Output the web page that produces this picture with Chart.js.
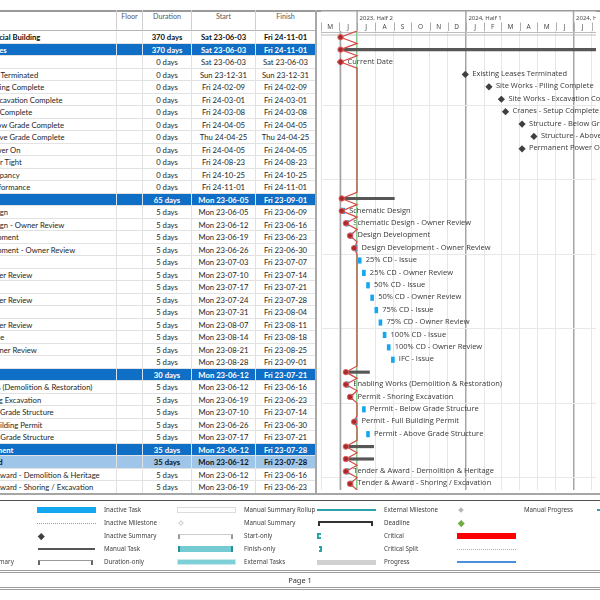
<!DOCTYPE html>
<html>
<head>
<meta charset="utf-8">
<script src="https://cdn.jsdelivr.net/npm/chart.js@4.4.1/dist/chart.umd.min.js"></script>
<style>
body { margin:0; width:600px; height:600px; overflow:hidden; background:#fff; position:relative; font-family: Lato, sans-serif; }
#sheet { position:absolute; left:0; top:10px; width:316px; height:484px; overflow:hidden; }
.row { position:absolute; left:0; width:316px; height:12.5px; }
.c { position:absolute; top:0; height:12.5px; box-sizing:border-box; border-right:1px solid #e2e2e2; border-bottom:1px solid #e2e2e2;
     white-space:nowrap; overflow:hidden; font-size:7.7px; line-height:12px; color:#262626; text-align:center; }
.hd { position:absolute; top:0; height:21px; box-sizing:border-box; border-right:1px solid #cfcfcf; border-bottom:1px solid #b5b5b5;
      font-size:7.2px; line-height:14px; color:#5a5a5a; text-align:center; }
.line { position:absolute; left:0; width:600px; }
.lg { position:absolute; font-family:"Noto Sans", sans-serif; font-size:6.2px; color:#404040; white-space:nowrap; line-height:8px; }
</style>
</head>
<body>
<div class="line" style="top:9.5px;height:2px;background:#9a9a9a"></div>
<div id="sheet"></div>
<div style="position:absolute;left:315px;top:10px;width:2px;height:484px;background:#a8a8a8"></div>
<canvas id="gantt" width="283" height="484" style="position:absolute;left:317px;top:10px"></canvas>
<div class="line" style="top:492.5px;height:2px;background:#a6a6a6"></div>
<div class="line" style="top:499.5px;height:1.5px;background:#505050"></div>
<div id="legend"></div>
<div class="line" style="top:569.5px;height:0;border-top:3px double #9c9c9c"></div>
<div style="position:absolute;left:0;width:600px;top:575px;text-align:center;font-family:'Noto Sans',sans-serif;font-size:7.4px;color:#333;line-height:10px">Page 1</div>
<div class="line" style="top:587px;height:0;border-top:3px double #9c9c9c"></div>
<script>
// ---- schedule data ----
const taskNames = [
  'Commercial Building', 'Milestones', 'Current Date', 'Existing Leases Terminated',
  'Site Works - Piling Complete', 'Site Works - Excavation Complete', 'Cranes - Setup Complete',
  'Structure - Below Grade Complete', 'Structure - Above Grade Complete', 'Permanent Power On',
  'Building - Water Tight', 'Building - Occupancy', 'Substantial Performance',
  'Design', 'Schematic Design', 'Schematic Design - Owner Review', 'Design Development',
  'Design Development - Owner Review', '25% CD - Issue', '25% CD - Owner Review',
  '50% CD - Issue', '50% CD - Owner Review', '75% CD - Issue', '75% CD - Owner Review',
  '100% CD - Issue', '100% CD - Owner Review', 'IFC - Issue',
  'Permits', 'Enabling Works (Demolition & Restoration)', 'Permit - Shoring Excavation',
  'Permit - Below Grade Structure', 'Permit - Full Building Permit', 'Permit - Above Grade Structure',
  'Procurement', 'Tender & Award', 'Tender & Award - Demolition & Heritage',
  'Tender & Award - Shoring / Excavation'
];
const outlineLevel = [0,1,2,2,2,2,2,2,2,2,2,2,2,1,2,2,2,2,2,2,2,2,2,2,2,2,2,1,2,2,2,2,2,1,2,3,3];
const rowKind = ['project','summary',
  'milestone','milestone','milestone','milestone','milestone','milestone','milestone','milestone','milestone','milestone','milestone',
  'summary','task','task','task','task','task','task','task','task','task','task','task','task','task',
  'summary','task','task','task','task','task',
  'summary','group','task','task'];
const floors = taskNames.map(() => '');
const durations = ['370 days','370 days',
  '0 days','0 days','0 days','0 days','0 days','0 days','0 days','0 days','0 days','0 days','0 days',
  '65 days','5 days','5 days','5 days','5 days','5 days','5 days','5 days','5 days','5 days','5 days','5 days','5 days','5 days',
  '30 days','5 days','5 days','5 days','5 days','5 days',
  '35 days','35 days','5 days','5 days'];
const startDates = ['2023-06-03','2023-06-03',
  '2023-06-03','2023-12-31','2024-02-09','2024-03-01','2024-03-08','2024-04-05','2024-04-25','2024-04-05','2024-08-23','2024-10-25','2024-11-01',
  '2023-06-05','2023-06-05','2023-06-12','2023-06-19','2023-06-26','2023-07-03','2023-07-10','2023-07-17','2023-07-24','2023-07-31','2023-08-07','2023-08-14','2023-08-21','2023-08-28',
  '2023-06-12','2023-06-12','2023-06-19','2023-07-10','2023-06-26','2023-07-17',
  '2023-06-12','2023-06-12','2023-06-12','2023-06-19'];
const finishDates = ['2024-11-01','2024-11-01',
  '2023-06-03','2023-12-31','2024-02-09','2024-03-01','2024-03-08','2024-04-05','2024-04-25','2024-04-05','2024-08-23','2024-10-25','2024-11-01',
  '2023-09-01','2023-06-09','2023-06-16','2023-06-23','2023-06-30','2023-07-07','2023-07-14','2023-07-21','2023-07-28','2023-08-04','2023-08-11','2023-08-18','2023-08-25','2023-09-01',
  '2023-07-21','2023-06-16','2023-06-23','2023-07-14','2023-06-30','2023-07-21',
  '2023-07-28','2023-07-28','2023-06-16','2023-06-23'];
// progress line vertices (where each late task really stands)
const progressDates = ['2023-06-03','2023-06-03','2023-06-03',null,null,null,null,null,null,null,null,null,null,
  '2023-06-05','2023-06-05','2023-06-12','2023-06-19','2023-06-26',null,null,null,null,null,null,null,null,null,
  '2023-06-12','2023-06-12','2023-06-19',null,'2023-06-26',null,
  '2023-06-12','2023-06-12','2023-06-12','2023-06-19'];
const statusDate = '2023-07-01';
const currentDate = '2023-06-30';
const projectStart = '2023-06-03';

// ---- timescale ----
const viewStart = '2023-05-01', viewEnd = '2024-08-08';
const monthStarts = ['2023-05-01','2023-06-01','2023-07-01','2023-08-01','2023-09-01','2023-10-01','2023-11-01','2023-12-01',
  '2024-01-01','2024-02-01','2024-03-01','2024-04-01','2024-05-01','2024-06-01','2024-07-01','2024-08-01','2024-09-01'];
const monthLetters = ['M','J','J','A','S','O','N','D','J','F','M','A','M','J','J','A'];
const halfStarts = ['2023-07-01','2024-01-01','2024-07-01'];
const halfLabels = ['2023, Half 2','2024, Half 1','2024, Half 2'];

// ---- legend ----
const legendLabels = [
  ['Task','Split','Milestone','Summary','Project Summary'],
  ['Inactive Task','Inactive Milestone','Inactive Summary','Manual Task','Duration-only'],
  ['Manual Summary Rollup','Manual Summary','Start-only','Finish-only','External Tasks'],
  ['External Milestone','Deadline','Critical','Critical Split','Progress'],
  ['Manual Progress']
];
const legendSwatches = [
  ['task','split','milestone','summary','projsum'],
  ['inactiveTask','inactiveMilestone','inactiveSummary','manualTask','durationOnly'],
  ['rollup','manualSummary','startOnly','finishOnly','external'],
  ['extMilestone','deadline','critical','criticalSplit','progress'],
  ['manualProgress']
];

const day = s => Date.parse(s + 'T00:00:00Z') / 86400000;
const wd = ['Sun','Mon','Tue','Wed','Thu','Fri','Sat'];
const fmt = s => wd[new Date(s + 'T00:00:00Z').getUTCDay()] + ' ' + s.slice(2);

// ---- table ----
const sheet = document.getElementById('sheet');
const cols = [
  {x:0, w:117, align:'left'}, {x:117, w:26}, {x:143, w:49}, {x:192, w:64}, {x:256, w:60}
];
const indent = [-30, -31, -52, -37];
const heads = ['', 'Floor', 'Duration', 'Start', 'Finish'];
heads.forEach((h, k) => {
  const d = document.createElement('div');
  d.className = 'hd';
  d.style.left = cols[k].x + 'px'; d.style.width = cols[k].w + 'px';
  d.textContent = h;
  sheet.appendChild(d);
});
taskNames.forEach((name, i) => {
  const r = document.createElement('div');
  r.className = 'row';
  r.style.top = (21 + i * 12.5) + 'px';
  const vals = [name, floors[i], durations[i], fmt(startDates[i]), fmt(finishDates[i])];
  vals.forEach((v, k) => {
    const c = document.createElement('div');
    c.className = 'c';
    c.style.left = cols[k].x + 'px'; c.style.width = cols[k].w + 'px';
    if (rowKind[i] === 'summary') { c.style.background = '#0f6fc6'; c.style.color = '#fff'; c.style.fontWeight = 'bold'; c.style.borderRightColor = '#d5e3f2'; }
    if (rowKind[i] === 'group') { c.style.background = '#9fc5e8'; c.style.fontWeight = 'bold'; c.style.color = '#111'; }
    if (rowKind[i] === 'project') { c.style.fontWeight = 'bold'; c.style.color = '#111'; }
    if (k === 0) {
      const sp = document.createElement('span');
      sp.style.position = 'absolute';
      sp.style.left = indent[outlineLevel[i]] + 'px';
      sp.textContent = v;
      c.appendChild(sp);
    } else {
      c.textContent = v;
    }
    r.appendChild(c);
  });
  sheet.appendChild(r);
});

// ---- legend ----
const legend = document.getElementById('legend');
function swatch(type, left, cy) {
  const d = document.createElement('div');
  const set = (x, w, h, css) => {
    Object.assign(d.style, {position:'absolute', left:x + 'px', width:w + 'px', height:h + 'px', top:(cy - h / 2) + 'px', boxSizing:'border-box'}, css || {});
  };
  switch (type) {
    case 'task': set(left, 59, 5.5, {background:'#12a7ee'}); break;
    case 'split': set(left, 59, 1, {borderTop:'1px dotted #6aa5dc'}); break;
    case 'milestone': set(left + 1.5, 4.5, 4.5, {background:'#404040', transform:'rotate(45deg)'}); break;
    case 'summary': set(left + 1, 57, 2, {background:'#555'}); break;
    case 'projsum': set(left + 1, 55, 5, {borderTop:'1px solid #999', borderLeft:'2px solid #666', borderRight:'2px solid #666'}); break;
    case 'inactiveTask': set(left, 59, 5.5, {border:'1px solid #dcdcdc', background:'#fff'}); break;
    case 'inactiveMilestone': set(left + 2, 4, 4, {border:'1px solid #ccc', transform:'rotate(45deg)'}); break;
    case 'inactiveSummary': set(left + 1, 55, 5, {borderTop:'1px solid #ccc', borderLeft:'2px solid #999', borderRight:'2px solid #999'}); break;
    case 'manualTask': set(left + 1, 55, 5.5, {background:'#74cbd2', borderLeft:'2px solid #2a8f97', borderRight:'2px solid #2a8f97'}); break;
    case 'durationOnly': set(left, 59, 6, {background:'#7cd0d6', border:'1px solid #c8ecef'}); break;
    case 'rollup': set(left, 59, 2.5, {background:'#2aa3ab'}); break;
    case 'manualSummary': set(left + 1, 55, 5, {borderTop:'2px solid #333', borderLeft:'2px solid #333', borderRight:'2px solid #333'}); break;
    case 'startOnly': set(left, 3.5, 6, {borderTop:'2px solid #2aa3ab', borderBottom:'2px solid #2aa3ab', borderLeft:'2px solid #2aa3ab'}); break;
    case 'finishOnly': set(left + 1.5, 3.5, 6, {borderTop:'2px solid #2aa3ab', borderBottom:'2px solid #2aa3ab', borderRight:'2px solid #2aa3ab'}); break;
    case 'external': set(left, 59, 5, {background:'#d0d0d0'}); break;
    case 'extMilestone': set(left + 2, 4, 4, {background:'#b8b8b8', transform:'rotate(45deg)'}); break;
    case 'deadline': set(left + 2, 4.5, 4.5, {background:'#6fae45', transform:'rotate(45deg)'}); break;
    case 'critical': set(left, 59, 6, {background:'#ff0000'}); break;
    case 'criticalSplit': set(left, 59, 1, {borderTop:'1px dotted #f08f8f'}); break;
    case 'progress': set(left, 59, 2, {background:'#4a8fdc'}); break;
    case 'manualProgress': set(left, 59, 2, {background:'#2aa3ab'}); break;
  }
  legend.appendChild(d);
}
legendLabels.forEach((group, k) => {
  group.forEach((label, r) => {
    const cy = 510 + r * 13;
    const t = document.createElement('div');
    t.className = 'lg';
    t.style.left = (-36 + 140 * k) + 'px';
    t.style.top = (cy - 4) + 'px';
    t.textContent = label;
    legend.appendChild(t);
    swatch(legendSwatches[k][r], 37 + 140 * k, cy);
  });
});

// ---- gantt chart ----
const rows = taskNames.map((n, i) => i);
const summaryBars = rowKind.map((k, i) => (k === 'summary' || k === 'group') ? [day(startDates[i]), day(finishDates[i]) + 1] : null);
const taskBars = rowKind.map((k, i) => k === 'task' ? [day(startDates[i]), day(finishDates[i]) + 1] : null);
const milestones = rows.filter(i => rowKind[i] === 'milestone').map(i => ({x: day(startDates[i]), y: i}));
const sDay = day(statusDate);
const progressPath = [{x: sDay, y: -0.5}];
progressDates.forEach((p, i) => {
  if (!p) return;
  progressPath.push({x: sDay, y: i - 0.5}, {x: day(p), y: i}, {x: sDay, y: i + 0.5});
});
progressPath.push({x: sDay, y: taskNames.length - 0.5});
const lastRow = taskNames.length - 0.5;

const timescale = {
  id: 'timescale',
  afterDraw(chart) {
    const {ctx, scales: {x}, chartArea} = chart;
    ctx.save();
    ctx.beginPath(); ctx.rect(chartArea.left, 0, chartArea.right - chartArea.left, chartArea.top); ctx.clip();
    ctx.fillStyle = '#fff'; ctx.fillRect(chartArea.left, 0, chartArea.right, chartArea.top);
    ctx.fillStyle = '#9a9a9a'; ctx.fillRect(chartArea.left, 0, chartArea.right, 1.5);
    ctx.strokeStyle = '#b0b0b0'; ctx.lineWidth = 1;
    monthStarts.forEach(m => {
      const px = Math.round(x.getPixelForValue(day(m))) + 0.5;
      ctx.beginPath(); ctx.moveTo(px, 12.5); ctx.lineTo(px, chartArea.top); ctx.stroke();
    });
    ctx.strokeStyle = '#a6a6a6'; ctx.lineWidth = 1.5;
    halfStarts.forEach(h => {
      const px = x.getPixelForValue(day(h));
      ctx.beginPath(); ctx.moveTo(px, 1); ctx.lineTo(px, chartArea.top); ctx.stroke();
    });
    ctx.fillStyle = '#4a4a4a';
    ctx.textBaseline = 'middle';
    ctx.font = '6px "Noto Sans"';
    ctx.textAlign = 'left';
    halfStarts.forEach((h, k) => ctx.fillText(halfLabels[k], x.getPixelForValue(day(h)) + 2.5, 8.5));
    ctx.font = '6.5px "Noto Sans"';
    ctx.textAlign = 'center';
    monthLetters.forEach((l, k) => {
      const a = x.getPixelForValue(day(monthStarts[k])), b = x.getPixelForValue(day(monthStarts[k + 1]));
      ctx.fillText(l, (a + b) / 2, 17);
    });
    ctx.restore();
  }
};
const barLabels = {
  id: 'barLabels',
  beforeDatasetsDraw(chart) {
    const {ctx, scales: {x, yl}, chartArea} = chart;
    ctx.save();
    ctx.strokeStyle = '#bdbdbd'; ctx.lineWidth = 1;
    [22.5, 25].forEach(y => { ctx.beginPath(); ctx.moveTo(chartArea.left, y); ctx.lineTo(chartArea.right, y); ctx.stroke(); });
    ctx.font = '7.5px "Open Sans"';
    ctx.fillStyle = '#383838';
    ctx.textBaseline = 'middle';
    ctx.textAlign = 'left';
    taskNames.forEach((name, i) => {
      let x0;
      if (rowKind[i] === 'milestone') x0 = x.getPixelForValue(day(startDates[i])) + 7;
      else if (rowKind[i] === 'task') x0 = x.getPixelForValue(day(finishDates[i]) + 1) + 4.5;
      else return;
      ctx.fillText(name, x0, yl.getPixelForValue(i) - 0.5);
    });
    ctx.restore();
  }
};

new Chart(document.getElementById('gantt'), {
  type: 'bar',
  data: {
    labels: taskNames,
    datasets: [
      {
        type: 'line', label: 'Progress', data: progressPath, xAxisID: 'x', yAxisID: 'yl', order: 0,
        borderColor: '#d94848', borderWidth: 1.2, tension: 0,
        pointRadius: c => (c.raw && c.raw.x !== sDay) ? 2.7 : 0,
        pointBackgroundColor: '#a72b2b', pointBorderColor: '#e06060', pointBorderWidth: 1
      },
      {
        type: 'line', label: 'Milestones', data: milestones, xAxisID: 'x', yAxisID: 'yl', order: 1,
        showLine: false, pointStyle: 'rectRot', pointRadius: 3.6, pointBackgroundColor: '#3f3f3f', pointBorderWidth: 0
      },
      {
        label: 'Tasks', data: taskBars, xAxisID: 'x', yAxisID: 'y', order: 2,
        backgroundColor: '#12a7ee', barThickness: 5.5, grouped: false, borderWidth: 0
      },
      {
        label: 'Summary', data: summaryBars, xAxisID: 'x', yAxisID: 'y', order: 3,
        backgroundColor: '#575757', barThickness: 2.5, grouped: false, borderWidth: 0
      },
      {
        type: 'line', label: 'Current date', data: [{x: day(currentDate), y: -0.5}, {x: day(currentDate), y: lastRow}],
        xAxisID: 'x', yAxisID: 'yl', order: 4, borderColor: '#8cc78c', borderWidth: 1, pointRadius: 0
      },
      {
        type: 'line', label: 'Project start', data: [{x: day(projectStart), y: -0.5}, {x: day(projectStart), y: lastRow}],
        xAxisID: 'x', yAxisID: 'yl', order: 5, borderColor: '#a3a3a3', borderWidth: 1.5, pointRadius: 0
      }
    ]
  },
  options: {
    indexAxis: 'y',
    responsive: false,
    animation: false,
    devicePixelRatio: 1,
    layout: { padding: { top: 21, bottom: 0.5, left: 0, right: 0 } },
    plugins: { legend: { display: false }, tooltip: { enabled: false } },
    scales: {
      x: {
        type: 'linear', position: 'top', min: day(viewStart), max: day(viewEnd), offset: false,
        afterBuildTicks: s => { s.ticks = monthStarts.map(m => ({value: day(m)})); },
        ticks: { display: false },
        border: { display: false },
        grid: {
          drawTicks: false, offset: false,
          color: c => halfStarts.some(h => day(h) === c.tick.value) ? '#a6a6a6' : '#e6e6e6',
          lineWidth: c => halfStarts.some(h => day(h) === c.tick.value) ? 1.5 : 1
        }
      },
      y: { type: 'category', display: false, offset: true },
      yl: {
        type: 'linear', min: -0.5, max: lastRow, reverse: true, position: 'left', offset: false,
        afterBuildTicks: s => { s.ticks = rows.filter(i => i > 0 && i % 6 === 0).map(i => ({value: i - 0.5})); },
        ticks: { display: false },
        border: { display: false },
        grid: { drawTicks: false, offset: false, color: '#e8e8e8' }
      }
    }
  },
  plugins: [timescale, barLabels]
});
</script>
</body>
</html>
